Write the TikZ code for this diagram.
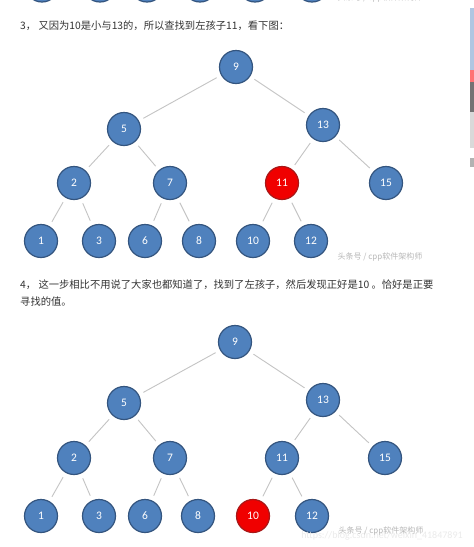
\documentclass[tikz,border=0pt]{standalone}
\usepackage{fontspec}
\setmainfont{Carlito}
\newfontfamily\cjk{Noto Sans CJK SC}
\definecolor{nodeblue}{HTML}{4F81BD}
\definecolor{nodeedge}{HTML}{34557F}
\definecolor{nodered}{HTML}{F00000}
\definecolor{rededge}{HTML}{A81818}
\definecolor{linegray}{HTML}{C4C4C4}
\definecolor{txtgray}{HTML}{333333}
\definecolor{wmgray}{HTML}{B8B8B8}
\definecolor{stripblue}{HTML}{AFC6E2}
\tikzset{
  bst/.style={circle, minimum size=33pt, inner sep=0pt, fill=nodeblue, draw=nodeedge, line width=1.2pt, text=white, font=\fontsize{11.5}{13}\selectfont},
  hit/.style={bst, fill=nodered, draw=rededge},
  edge/.style={draw=linegray, line width=0.9pt, shorten <=5pt, shorten >=5pt},
  caption/.style={anchor=west, text=txtgray, font=\cjk\fontsize{10.3}{12}\selectfont, inner sep=0pt},
  wmark/.style={text=wmgray, font=\cjk\fontsize{8}{10}\selectfont, inner sep=0pt}
}
\begin{document}
\begin{tikzpicture}[x=1pt,y=-1pt]
\useasboundingbox (0,0) rectangle (474,547);
\fill[white] (0,0) rectangle (474,547);
\clip (0,0) rectangle (474,547);
% remnants of previous picture at top
\foreach \px in {42,100,147,200,255,312}{
  \fill[nodeblue] (\px,-15) circle (17pt);
  \draw[nodeedge, line width=1.2pt] (\px,-15) circle (17pt);
}
\node[wmark] (wm0) at (380,-2) {头条号 / cpp软件架构师};
% right edge strip
\fill[stripblue] (470,8) rectangle (474,70);
\fill[red!55!white] (470,70) rectangle (474,82);
\fill[black!55] (470,82) rectangle (474,112);
\fill[black!15] (470,112) rectangle (474,148);
\fill[black!30] (470,158) rectangle (474,167);

% captions
\node[caption] (cap3) at (20,26) {3， 又因为10是小与13的，所以查找到左孩子11，看下图：};
\node[caption] (cap4a) at (20,285) {4， 这一步相比不用说了大家也都知道了，找到了左孩子，然后发现正好是10 。恰好是正要};
\node[caption] (cap4b) at (20,302) {寻找的值。};

% tree 1
\node[bst] (a9) at (236,67) {9};
\node[bst] (a5) at (124,129) {5};
\node[bst] (a13) at (323,125) {13};
\node[bst] (a2) at (74,183) {2};
\node[bst] (a7) at (170,183) {7};
\node[hit] (a11) at (282,183) {11};
\node[bst] (a15) at (386,183) {15};
\node[bst] (a1) at (41,241) {1};
\node[bst] (a3) at (99,241) {3};
\node[bst] (a6) at (145,241) {6};
\node[bst] (a8) at (199,241) {8};
\node[bst] (a10) at (253,241) {10};
\node[bst] (a12) at (311,241) {12};
\foreach \p/\c in {9/5,9/13,5/2,5/7,13/11,13/15,2/1,2/3,7/6,7/8,11/10,11/12}{
  \draw[edge] (a\p) -- (a\c);
}
\node[wmark] (wm1) at (380,257) {头条号 / cpp软件架构师};

% tree 2
\node[bst] (b9) at (235,342) {9};
\node[bst] (b5) at (124,403) {5};
\node[bst] (b13) at (323,400) {13};
\node[bst] (b2) at (74,458) {2};
\node[bst] (b7) at (170,458) {7};
\node[bst] (b11) at (282,458) {11};
\node[bst] (b15) at (385,458) {15};
\node[bst] (b1) at (41,516) {1};
\node[bst] (b3) at (99,516) {3};
\node[bst] (b6) at (145,516) {6};
\node[bst] (b8) at (198,516) {8};
\node[hit] (b10) at (253,516) {10};
\node[bst] (b12) at (312,516) {12};
\foreach \p/\c in {9/5,9/13,5/2,5/7,13/11,13/15,2/1,2/3,7/6,7/8,11/10,11/12}{
  \draw[edge] (b\p) -- (b\c);
}
\node[text=black!8, font=\fontsize{10}{12}\selectfont, inner sep=0pt] (url) at (382,536) {https://blog.csdn.net/weixin\_41847891};
\node[wmark] (wm2) at (381,531) {头条号 / cpp软件架构师};
\end{tikzpicture}
\end{document}
